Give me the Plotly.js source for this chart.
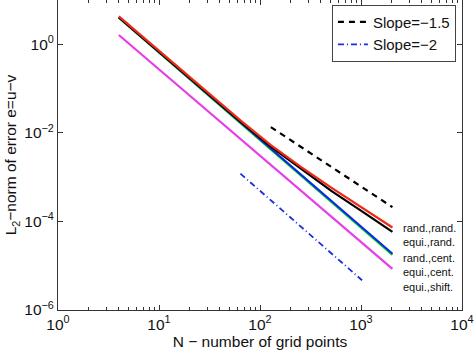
<!DOCTYPE html>
<html><head><meta charset="utf-8">
<script src="https://cdn.plot.ly/plotly-3.0.1.min.js"></script>
<style>html,body{margin:0;padding:0;background:#fff}#plot{width:474px;height:351px}</style>
</head><body><div id="plot"></div>
<script>
// grid sizes
const N = [4, 8, 16, 32, 64, 128, 256, 512, 1024, 2048];
// error curves
const randRand  = [4.27, 1.10, 0.282, 0.0724, 0.0191, 0.00530, 0.00168, 5.75e-4, 2.05e-4, 7.3e-5];
const equiRand  = [4.07, 1.05, 0.269, 0.0692, 0.0180, 0.00490, 0.00152, 4.85e-4, 1.68e-4, 5.8e-5];
const randCent  = [4.10, 1.05, 0.270, 0.0680, 0.0174, 0.00450, 0.00113, 2.90e-4, 7.30e-5, 1.86e-5];
const equiCent  = [4.00, 1.02, 0.262, 0.0660, 0.0168, 0.00430, 0.00109, 2.78e-4, 7.00e-5, 1.75e-5];
const equiShift = [1.62, 0.42, 0.109, 0.0280, 0.0073, 0.0019, 4.9e-4, 1.26e-4, 3.2e-5, 8.5e-6];
// reference slope lines
const slope15X = [128, 2048];
const slope15Y = [0.0135, 2.1e-4];
const slope2X = [64, 1024];
const slope2Y = [1.2e-3, 4.7e-6];
// labels (grouped as they appear at the right end of the curves)
const curveLabels = ["rand.,rand.<br>equi.,rand.", "rand.,cent.<br>equi.,cent.", "equi.,shift."];
const labelLogY = [-4.30, -4.99, -5.48];
const xTickVals = [1, 10, 100, 1000, 10000];
const xTickText = ["10<sup>0</sup>", "10<sup>1</sup>", "10<sup>2</sup>", "10<sup>3</sup>", "10<sup>4</sup>"];
const yTickVals = [1e-6, 1e-4, 1e-2, 1];
const yTickText = ["10<sup>−6</sup>", "10<sup>−4</sup>", "10<sup>−2</sup>", "10<sup>0</sup>"];

const minorX = [];
for (let d = 1; d <= 1000; d *= 10) for (let k = 2; k <= 9; k++) minorX.push(k * d);

const FONT = "Liberation Sans, Arial, Helvetica, sans-serif";
const lw = 2.2;
const traces = [
  {x: N, y: equiCent, mode: "lines", line: {color: "#10e010", width: lw}, showlegend: false},
  {x: N, y: randCent, mode: "lines", line: {color: "#0a2ae6", width: lw}, showlegend: false},
  {x: N, y: equiShift, mode: "lines", line: {color: "#e63ee6", width: lw}, showlegend: false},
  {x: N, y: equiRand, mode: "lines", line: {color: "#000000", width: lw}, showlegend: false},
  {x: N, y: randRand, mode: "lines", line: {color: "#ee2a16", width: lw}, showlegend: false},
  {x: slope15X, y: slope15Y, mode: "lines", name: "Slope=−1.5", line: {color: "#000", width: 2.2, dash: "6px,5px"}},
  {x: slope2X, y: slope2Y, mode: "lines", name: "Slope=−2", line: {color: "#1a2ee0", width: 1.8, dash: "6px,3px,1px,3px"}}
];

const annotations = curveLabels.map((t, i) => ({
  x: 0.851, y: labelLogY[i], xref: "paper", yref: "y", text: t, showarrow: false,
  xanchor: "left", yanchor: "middle", align: "left", borderpad: 0,
  font: {family: FONT, size: 11, color: "#111"}
}));

const layout = {
  width: 474, height: 351,
  margin: {l: 58, r: 12, t: 0, b: 41},
  paper_bgcolor: "#fff", plot_bgcolor: "#fff",
  font: {family: FONT, color: "#111"},
  xaxis: {
    type: "log", range: [0, 4], tickmode: "array", tickvals: xTickVals, ticktext: xTickText,
    ticks: "inside", ticklen: 5, tickcolor: "#333", showline: true, linecolor: "#333", linewidth: 1,
    mirror: "allticks", showgrid: false, zeroline: false, tickfont: {size: 15.5},
    minor: {tickvals: minorX, ticks: "inside", ticklen: 3, tickcolor: "#333", showgrid: false},
    title: {text: "N − number of grid points", font: {size: 15.5}, standoff: 1}
  },
  yaxis: {
    type: "log", range: [-6, 1], tickmode: "array", tickvals: yTickVals, ticktext: yTickText,
    ticks: "inside", ticklen: 5, tickcolor: "#333", showline: true, linecolor: "#333", linewidth: 1,
    mirror: "allticks", showgrid: false, zeroline: false, tickfont: {size: 15.5},
    title: {text: "L<sub>2</sub>−norm of error e=u−v", font: {size: 15.5}, standoff: 3}
  },
  legend: {
    x: 0.985, y: 0.985, xanchor: "right", yanchor: "top",
    bgcolor: "#fff", bordercolor: "#444", borderwidth: 1,
    font: {size: 15}, tracegroupgap: 0, itemwidth: 30
  },
  annotations: annotations,
  showlegend: true
};

Plotly.newPlot("plot", traces, layout, {displayModeBar: false, staticPlot: true});
</script>
</body></html>
